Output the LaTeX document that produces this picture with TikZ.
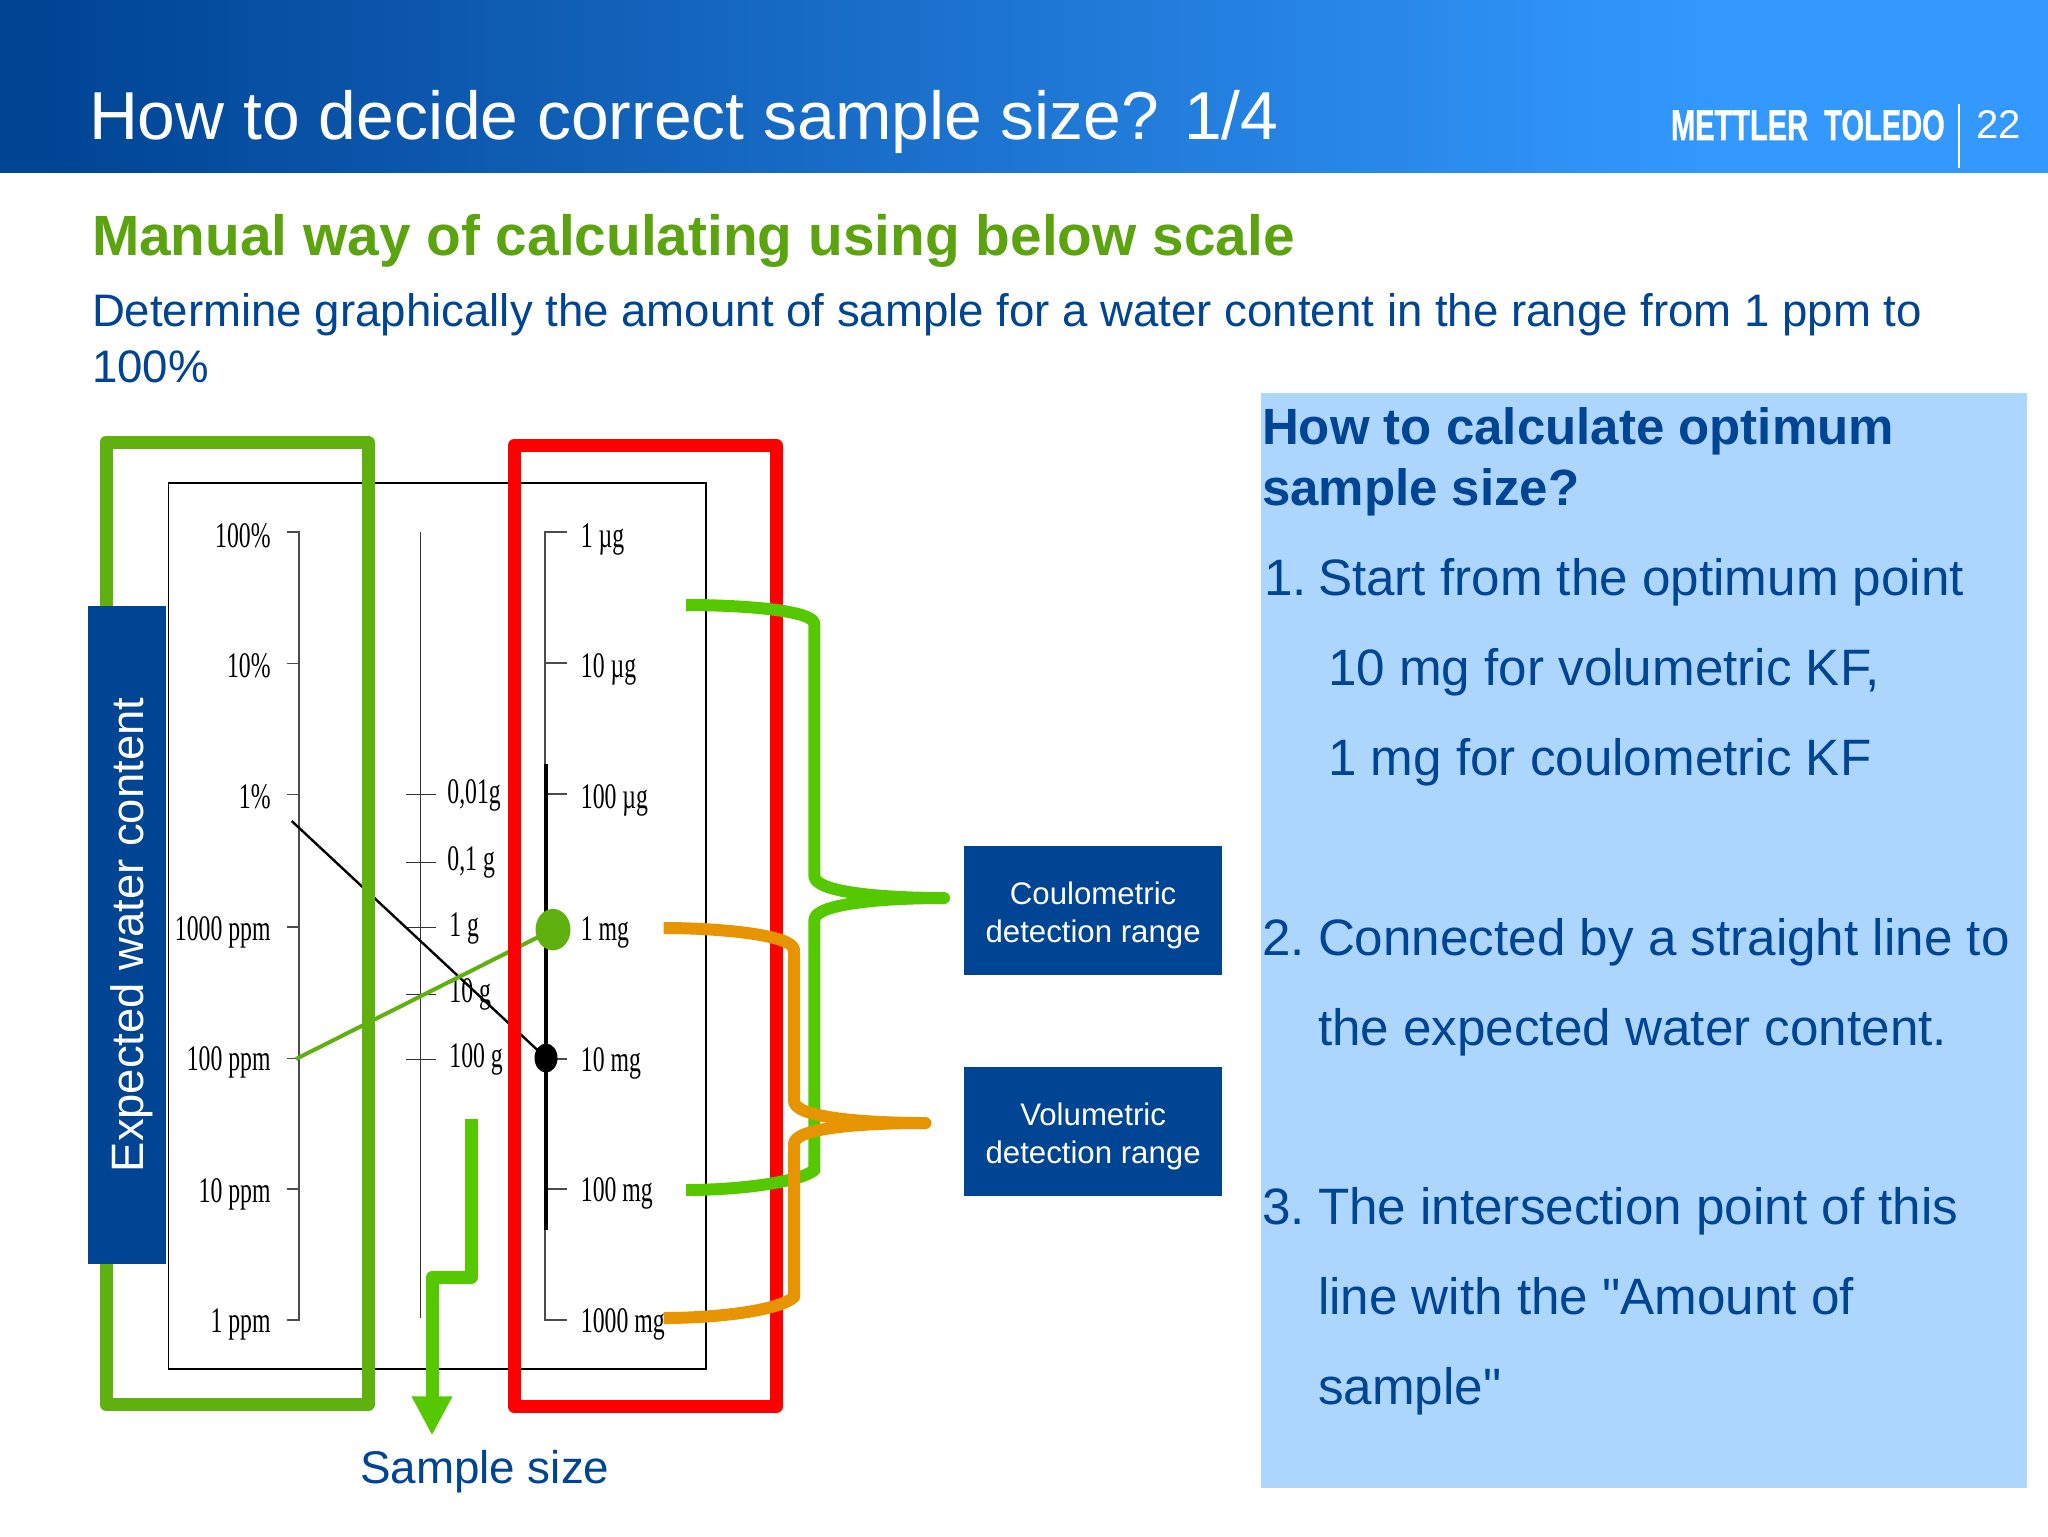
\documentclass[tikz,border=0pt]{standalone}
\usepackage{fontspec}
\usepackage{graphicx}
\setmainfont{Liberation Sans}
\newfontfamily\timesf{Liberation Serif}
\newfontfamily\plainf{Liberation Sans}
\newfontfamily\logof[BoldFeatures={FakeBold=1.2}]{Liberation Sans}
\usetikzlibrary{arrows.meta,shapes.geometric}
\definecolor{navy}{HTML}{004494}
\definecolor{skyb}{HTML}{ADD6FF}
\definecolor{headl}{HTML}{004494}
\definecolor{headr}{HTML}{3399FF}
\definecolor{hgreen}{HTML}{5BA40F}
\definecolor{rgreen}{HTML}{60B010}
\definecolor{bgreen}{HTML}{55C800}
\definecolor{orng}{HTML}{E69500}
\pgfdeclarehorizontalshading{headershade}{100bp}{color(0bp)=(headl); color(26bp)=(headl); color(67bp)=(headr); color(100bp)=(headr)}
\newcommand{\fsz}[1]{\fontsize{#1}{#1}\selectfont}
\newcommand{\narrowlbl}[1]{\scalebox{0.66}[1]{\timesf\fsz{18}#1}}
\tikzset{
  txt/.style={anchor=base west,inner sep=0pt,outer sep=0pt},
  bodytxt/.style={txt,text=navy,font=\fsz{25.6}},
  boldtxt/.style={txt,text=navy,font=\fsz{25.5}\bfseries},
  llabel/.style={anchor=base east,inner sep=0pt,text=black},
  rlabel/.style={anchor=base west,inner sep=0pt,text=black},
  axisline/.style={draw=black!70,line width=0.6pt},
  frame/.style={line width=6.5pt,line join=round},
  brace/.style={line width=6pt,line join=round},
  bluebox/.style={fill=navy,minimum width=129.3pt,minimum height=64.5pt,inner sep=0pt,anchor=north west},
  boxtext/.style={inner sep=0pt,text=white,align=center,font=\fontsize{15.6}{19}\selectfont},
}
\begin{document}
\begin{tikzpicture}[x=0.5pt,y=-0.5pt]
\useasboundingbox (0,0) rectangle (2048,1536);
\fill[white] (0,0) rectangle (2048,1536);
% header
\shade[shading=headershade] (0,0) rectangle (2048,172);
\node[txt,text=white,font=\fsz{33.9}] (title) at (89,140) {How to decide correct sample size? 1/4};
\node[txt,text=white,font=\logof\fsz{21.5}\bfseries] (logo) at (1671,140) {\scalebox{0.675}[1]{METTLER\hspace{12pt}TOLEDO}};
\coordinate (dv1) at (1959,104); \coordinate (dv2) at (1959,168);
\draw[white,line width=0.7pt] (dv1) -- (dv2);
\node[txt,text=white,font=\fsz{20}] (pg) at (1976,138) {22};
% headings
\node[txt,text=hgreen,font=\fsz{28.4}\bfseries] (h1) at (92,255) {Manual way of calculating using below scale};
\node[bodytxt,font=\fsz{22.8}] (h2) at (92,326.5) {Determine graphically the amount of sample for a water content in the range from 1 ppm to};
\node[bodytxt,font=\fsz{22.8}] (h3) at (92,382) {100\%};
% right panel
\fill[skyb] (1260.5,393) rectangle (2027,1488);
\node[boldtxt] (p1) at (1262,444) {How to calculate optimum};
\node[boldtxt] (p2) at (1262,505.5) {sample size?};
\node[bodytxt] (n1) at (1264,595.5) {1.};
\node[bodytxt] (p3) at (1318,595.5) {Start from the optimum point};
\node[bodytxt] (p4) at (1328,685.6) {10 mg for volumetric KF,};
\node[bodytxt] (p5) at (1328,775.8) {1 mg for coulometric KF};
\node[bodytxt] (n2) at (1262,955.5) {2.};
\node[bodytxt] (p6) at (1318,955.5) {Connected by a straight line to};
\node[bodytxt] (p7) at (1318,1045.5) {the expected water content.};
\node[bodytxt] (n3) at (1262,1224.5) {3.};
\node[bodytxt] (p8) at (1318,1224.5) {The intersection point of this};
\node[bodytxt] (p9) at (1318,1314.5) {line with the {\plainf "}Amount of};
\node[bodytxt] (p10) at (1318,1404.5) {sample{\plainf "}};
% scale image
\draw[black,line width=0.9pt] (168.5,482.7) rectangle (706,1369);
\draw[axisline] (287,532) -- (299,532) -- (299,1320) -- (287,1320);
\foreach \y in {663.5,794.6,927,1058.8,1189} \draw[axisline] (287,\y) -- (299,\y);
\draw[black!80,line width=0.5pt] (420.7,532) -- (420.7,1318);
\foreach \y in {794,862.5,927,994,1059} \draw[black!80,line width=0.5pt] (406,\y) -- (436,\y);
\draw[axisline] (567,532) -- (545,532) -- (545,1320) -- (567,1320);
\foreach \y in {663,794,927,1059,1189} \draw[axisline] (545,\y) -- (567,\y);
\draw[black,line width=1.9pt] (546,764) -- (546,1230);
\node[llabel] (a1) at (271,547) {\narrowlbl{100\%}};
\node[llabel] (a2) at (271,677) {\narrowlbl{10\%}};
\node[llabel] (a3) at (271,808) {\narrowlbl{1\%}};
\node[llabel] (a4) at (271,940) {\narrowlbl{1000 ppm}};
\node[llabel] (a5) at (271,1070.5) {\narrowlbl{100 ppm}};
\node[llabel] (a6) at (271,1202) {\narrowlbl{10 ppm}};
\node[llabel] (a7) at (271,1332.5) {\narrowlbl{1 ppm}};
\node[rlabel] (b1) at (447,803.5) {\narrowlbl{0,01g}};
\node[rlabel] (b2) at (447,870.5) {\narrowlbl{0,1 g}};
\node[rlabel] (b3) at (449,936) {\narrowlbl{1 g}};
\node[rlabel] (b4) at (449,1002) {\narrowlbl{10 g}};
\node[rlabel] (b5) at (449,1067) {\narrowlbl{100 g}};
\node[rlabel] (c1) at (580.5,547) {\narrowlbl{1 µg}};
\node[rlabel] (c2) at (580.5,677) {\narrowlbl{10 µg}};
\node[rlabel] (c3) at (580.5,808.5) {\narrowlbl{100 µg}};
\node[rlabel] (c4) at (580.5,940.5) {\narrowlbl{1 mg}};
\node[rlabel] (c5) at (580.5,1071) {\narrowlbl{10 mg}};
\node[rlabel] (c6) at (580.5,1201.5) {\narrowlbl{100 mg}};
\node[rlabel] (c7) at (580.5,1332.5) {\narrowlbl{1000 mg}};
% points and lines
\node[draw=none,fill=black,ellipse,minimum width=11.5pt,minimum height=14.5pt,inner sep=0pt] (bdot) at (546,1058) {};
\node[draw=none,fill=rgreen,ellipse,minimum width=17.5pt,minimum height=20.7pt,inner sep=0pt] (gdot) at (553,929.6) {};
\coordinate (bs) at (291.7,821);
\coordinate (gs) at (296,1059);
\draw[black,line width=1.2pt] (bs) -- (bdot.center);
\draw[rgreen,line width=2pt] (gs) -- (gdot.center);
% frames
\draw[frame,rgreen] (106,442) rectangle (368,1404.5);
\draw[frame,red] (514,445.5) rectangle (776.5,1406.5);
% vertical label
\fill[navy] (88,605.6) rectangle (166,1264);
\node[anchor=base,rotate=90,inner sep=0pt,text=white,font=\fsz{22.7}] (exp) at (143,935) {Expected water content};
% sample arrow
\coordinate (sa) at (471,1119);
\coordinate (sb) at (471,1277.5);
\coordinate (sc) at (432,1277.5);
\coordinate (sd) at (432,1435.5);
\draw[bgreen,line width=6.5pt,line join=round,-{Triangle[length=19.6pt,width=19pt]}] (sa) -- (sb) -- (sc) -- (sd);
\node[txt,text=navy,font=\fsz{22.9}] (ss) at (360,1483) {Sample size};
% label boxes
\node[bluebox] (coul) at (963.4,845.7) {};
\node[boxtext] (coult) at ([yshift=-2.5pt]coul.center) {Coulometric\\detection range};
\node[bluebox] (volu) at (963.4,1067) {};
\node[boxtext] (volut) at ([yshift=-2.5pt]volu.center) {Volumetric\\detection range};
% braces
\coordinate (g0) at (686,605); \coordinate (g1) at (814.4,624);
\coordinate (g2) at (814.4,876); \coordinate (gt) at (944,898);
\coordinate (g3) at (814.4,920); \coordinate (g4) at (814.4,1170); \coordinate (g5) at (686,1190);
\draw[brace,bgreen,line cap=butt] (g0) .. controls (740,605) and (814.4,610) .. (g1) -- (g2)
  .. controls (814.4,892) and (880,898) .. (gt);
\draw[brace,bgreen] (gt) .. controls (880,898) and (814.4,904) .. (g3) -- (g4)
  .. controls (800,1182) and (740,1190) .. (g5);
\fill[bgreen] (gt) circle (6);
\coordinate (o0) at (663.7,928); \coordinate (o1) at (794,950);
\coordinate (o2) at (794,1101); \coordinate (ot) at (925.5,1123);
\coordinate (o3) at (794,1144); \coordinate (o4) at (794,1297); \coordinate (o5) at (663.7,1318);
\draw[brace,orng] (o0) .. controls (720,928) and (794,935) .. (o1) -- (o2)
  .. controls (794,1117) and (860,1123) .. (ot);
\draw[brace,orng] (ot) .. controls (860,1123) and (794,1128) .. (o3) -- (o4)
  .. controls (780,1310) and (720,1318) .. (o5);
\fill[orng] (ot) circle (6);
\end{tikzpicture}
\end{document}
